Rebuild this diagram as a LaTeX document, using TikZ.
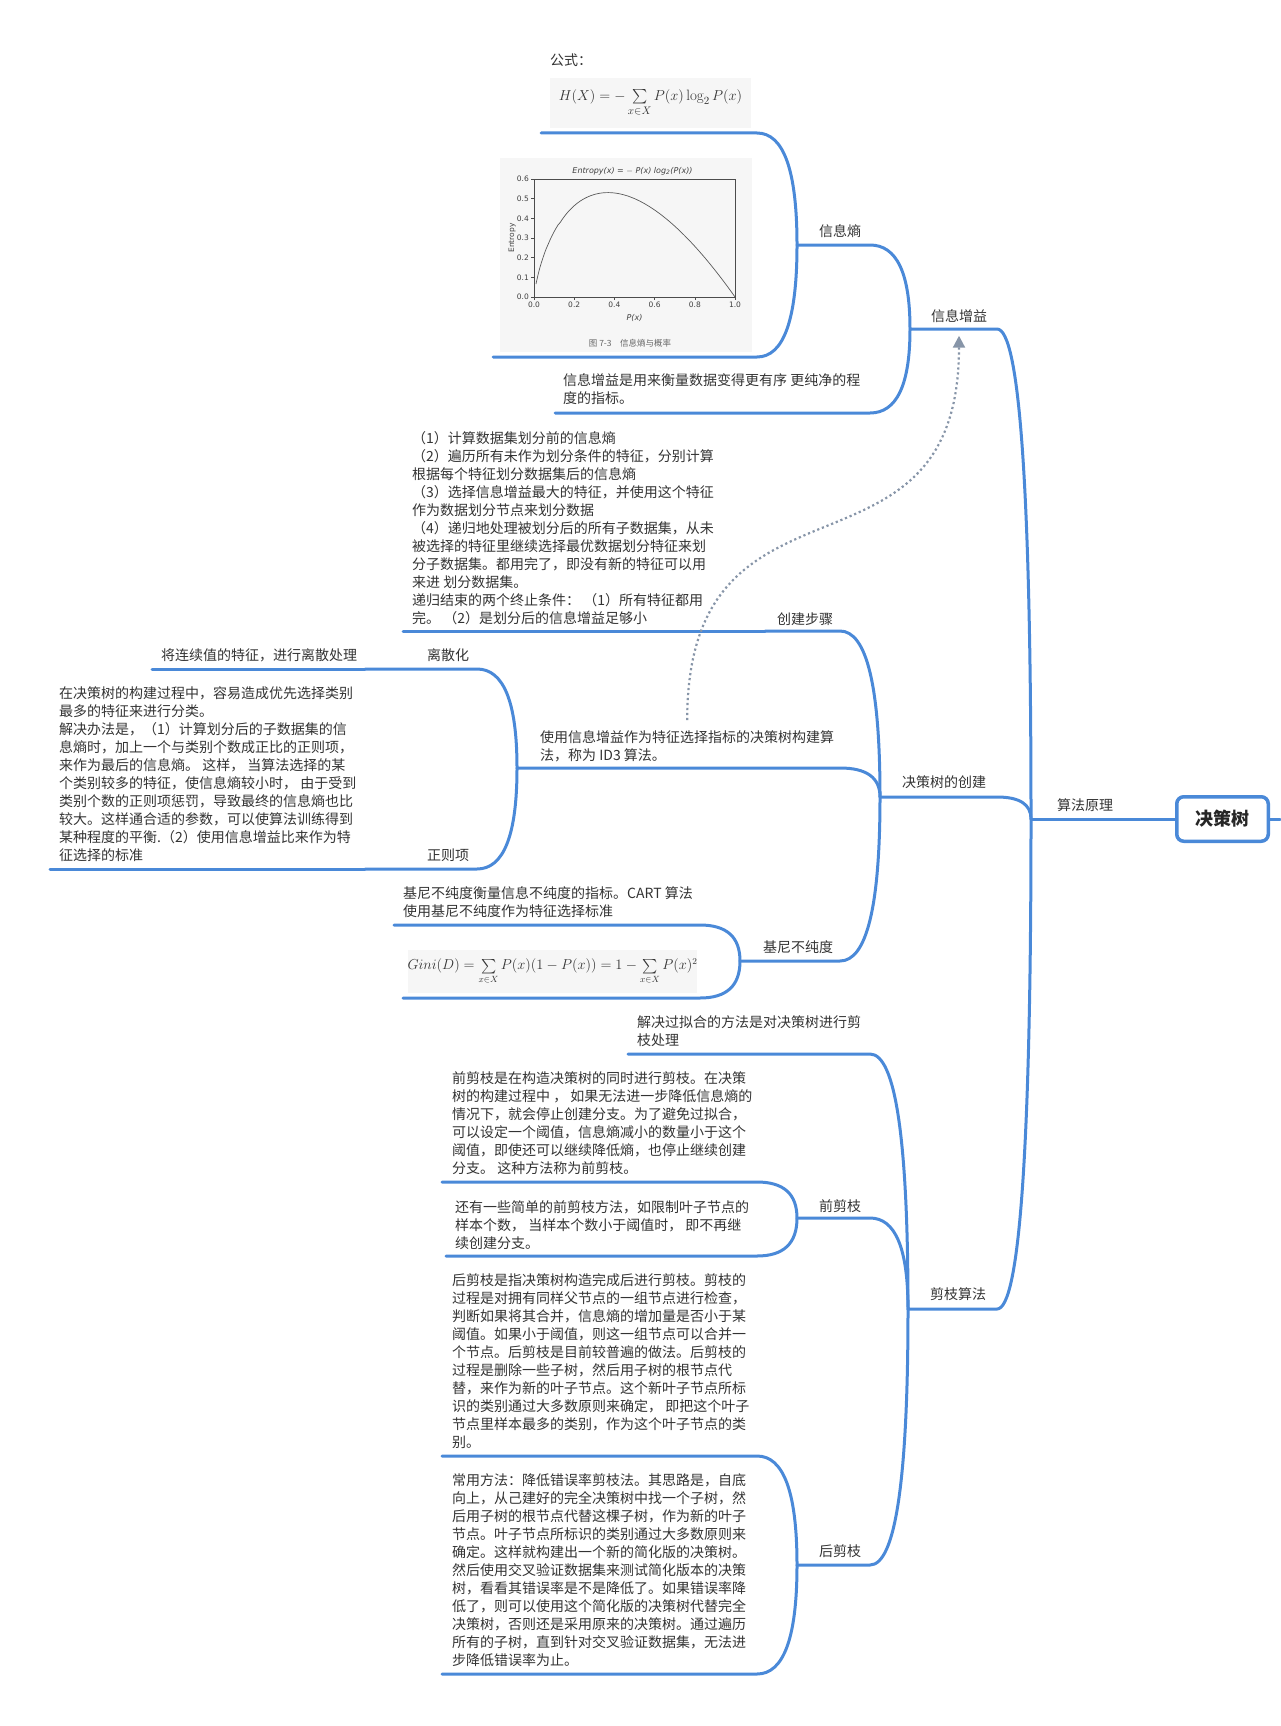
\documentclass[tikz,border=0pt]{standalone}
\usepackage{amsmath}
\usepackage{fontspec}
\newfontfamily\cjk{Noto Sans CJK SC}
\newfontfamily\plotfont{DejaVu Sans}
\usetikzlibrary{calc,arrows.meta}
\definecolor{branchblue}{HTML}{4A89D8}
\definecolor{txtgray}{HTML}{333333}
\definecolor{dotgray}{HTML}{8795A8}
\definecolor{picbg}{HTML}{F6F6F6}
\def\branch(#1)(#2)(#3){\draw[twig] (#1) -- (#2) .. controls ($(#2)!.667!(#3 |- #2)$) and ($(#3)!.667!(#3 |- #2)$) .. (#3);}
\tikzset{
	twig/.style={draw=branchblue, line width=3pt, line cap=round},
	topic/.style={text=txtgray, font=\cjk\fontsize{14}{18}\selectfont, inner sep=0pt},
	note/.style={topic, align=left, anchor=west},
	formula/.style={fill=picbg, inner sep=0pt, text=txtgray, font=\fontsize{15}{18}\selectfont},
	rootbox/.style={draw=branchblue, line width=3.5pt, rounded corners=7pt, fill=white, minimum width=91.5pt, minimum height=44.5pt, text=black!85, font=\cjk\bfseries\fontsize{18}{22}\selectfont},
	relate/.style={draw=dotgray, line width=2.2pt, dash pattern=on 2.2pt off 2.8pt, -{Triangle[width=12pt,length=12pt]}},
	ticklbl/.style={font=\plotfont\fontsize{7.5}{9}\selectfont, text=black!75, inner sep=1pt},
}

\begin{document}
\begin{tikzpicture}[x=1pt,y=-1pt]
			%%%%% START %%%%%
			\useasboundingbox (0,0) rectangle (1280,1726);
			
			\node[rootbox] (root) at (1222.5,819) {决策树};
			\node[topic] (principle) at (1085,805) {算法原理};
			
			% 信息增益
			\node[topic] (gain) at (959,316) {信息增益};
			\node[topic] (entropy) at (840,231) {信息熵};
			\node[note] (fhead) at (550,60) {公式：};
			\node[formula, minimum width=201pt, minimum height=50pt] (hform) at (650.5,103) {$H(X)=-\sum\limits_{x\in X}P(x)\log_2 P(x)$};
			\node[note] (gaindef) at (563,389.5) {信息增益是用来衡量数据变得更有序 更纯净的程\\度的指标。};
			
			\fill[picbg] (500,158) rectangle (752,352);
			\begin{scope}[xshift=534pt, yshift=-297pt, x=201pt, y=196.7pt]
				\draw[black!70, line width=0.6pt] (0,0) rectangle (1,0.6);
				\foreach \t [count=\k] in {0.0,0.2,0.4,0.6,0.8,1.0} {
					\draw[black!70, line width=0.5pt] (\t,0) -- ++(0,-3pt);
					\node[ticklbl, anchor=north] (xt\k) at (\t,-0.02) {\t};
				}
				\foreach \v [count=\k] in {0.0,0.1,0.2,0.3,0.4,0.5,0.6} {
					\draw[black!70, line width=0.5pt] (0,\v) -- ++(-3pt,0);
					\node[ticklbl, anchor=east] (yt\k) at (-0.02,\v) {\v};
				}
				\draw[black!65, line width=0.7pt] plot[domain=0.01:1, samples=100, smooth] (\x, {-\x*ln(\x)/ln(2)});
				\node[ticklbl, font=\plotfont\itshape\fontsize{8}{9}\selectfont] (ptitle) at (0.49,0.64) {Entropy(x) = $-$ P(x) log\textsubscript{2}(P(x))};
				\node[ticklbl, font=\plotfont\itshape\fontsize{8}{9}\selectfont] (pxlabel) at (0.5,-0.107) {P(x)};
				\node[ticklbl, rotate=90] (pylabel) at (-0.109,0.3) {Entropy};
			\end{scope}
			\node[font=\cjk\fontsize{8.5}{10}\selectfont, text=black!60, inner sep=0pt] (pcap) at (630,343) {图 7-3\quad 信息熵与概率};
			
			% 决策树的创建
			\node[topic] (build) at (944,782) {决策树的创建};
			\node[topic] (steps) at (805,619) {创建步骤};
			\node[note] (stepstxt) at (412,528.5) {（1）计算数据集划分前的信息熵\\（2）遍历所有未作为划分条件的特征，分别计算\\根据每个特征划分数据集后的信息熵\\（3）选择信息增益最大的特征，并使用这个特征\\作为数据划分节点来划分数据\\（4）递归地处理被划分后的所有子数据集，从未\\被选择的特征里继续选择最优数据划分特征来划\\分子数据集。都用完了，即没有新的特征可以用\\来进 划分数据集。\\递归结束的两个终止条件：  （1）所有特征都用\\完。 （2）是划分后的信息增益足够小};
			\node[note] (idthree) at (540,746) {使用信息增益作为特征选择指标的决策树构建算\\法，称为 ID3 算法。};
			\node[topic] (discrete) at (448,655) {离散化};
			\node[note] (distxt) at (161,655) {将连续值的特征，进行离散处理};
			\node[topic] (regular) at (448,855) {正则项};
			\node[note] (regtxt) at (59,774) {在决策树的构建过程中，容易造成优先选择类别\\最多的特征来进行分类。\\解决办法是，（1）计算划分后的子数据集的信\\息熵时，加上一个与类别个数成正比的正则项，\\来作为最后的信息熵。 这样， 当算法选择的某\\个类别较多的特征，使信息熵较小时， 由于受到\\类别个数的正则项惩罚，导致最终的信息熵也比\\较大。这样通合适的参数，可以使算法训练得到\\某种程度的平衡.（2）使用信息增益比来作为特\\征选择的标准};
			\node[topic] (gini) at (798,947) {基尼不纯度};
			\node[note] (ginitxt) at (403,902) {基尼不纯度衡量信息不纯度的指标。CART 算法\\使用基尼不纯度作为特征选择标准};
			\node[formula, font=\fontsize{13.5}{16}\selectfont, minimum width=281pt, minimum height=43pt] (giniform) at (552.5,971.5) {$Gini(D)=\sum\limits_{x\in X}P(x)(1-P(x))=1-\sum\limits_{x\in X}P(x)^2$};
			
			% 剪枝算法
			\node[topic] (prune) at (958,1294) {剪枝算法};
			\node[note] (prunedef) at (637,1031.5) {解决过拟合的方法是对决策树进行剪\\枝处理};
			\node[topic] (prepr) at (840,1206) {前剪枝};
			\node[note] (pretxta) at (452,1123) {前剪枝是在构造决策树的同时进行剪枝。在决策\\树的构建过程中 ， 如果无法进一步降低信息熵的\\情况下，就会停止创建分支。为了避免过拟合，\\可以设定一个阈值，信息熵减小的数量小于这个\\阈值，即使还可以继续降低熵，也停止继续创建\\分支。 这种方法称为前剪枝。};
			\node[note] (pretxtb) at (455,1225) {还有一些简单的前剪枝方法，如限制叶子节点的\\样本个数， 当样本个数小于阈值时， 即不再继\\续创建分支。};
			\node[topic] (postpr) at (840,1551) {后剪枝};
			\node[note] (posttxta) at (452,1361.5) {后剪枝是指决策树构造完成后进行剪枝。剪枝的\\过程是对拥有同样父节点的一组节点进行检查，\\判断如果将其合并，信息熵的增加量是否小于某\\阈值。如果小于阈值，则这一组节点可以合并一\\个节点。后剪枝是目前较普遍的做法。后剪枝的\\过程是删除一些子树，然后用子树的根节点代\\替，来作为新的叶子节点。这个新叶子节点所标\\识的类别通过大多数原则来确定， 即把这个叶子\\节点里样本最多的类别，作为这个叶子节点的类\\别。};
			\node[note] (posttxtb) at (452,1570) {常用方法：降低错误率剪枝法。其思路是，自底\\向上，从己建好的完全决策树中找一个子树，然\\后用子树的根节点代替这棵子树，作为新的叶子\\节点。叶子节点所标识的类别通过大多数原则来\\确定。这样就构建出一个新的简化版的决策树。\\然后使用交叉验证数据集来测试简化版本的决策\\树，看看其错误率是不是降低了。如果错误率降\\低了，则可以使用这个简化版的决策树代替完全\\决策树，否则还是采用原来的决策树。通过遍历\\所有的子树，直到针对交叉验证数据集，无法进\\步降低错误率为止。};
			
			% junctions and line ends
			\coordinate (jprin) at (1031,819);
			\coordinate (jgain) at (910,329);
			\coordinate (jbuild) at (880,797);
			\coordinate (jprune) at (908,1309);
			\coordinate (jent) at (797,245);
			\coordinate (jsteps) at (765,631);
			\coordinate (jid) at (517,768);
			\coordinate (jgini) at (740,961);
			\coordinate (jdis) at (365,669);
			\coordinate (jreg) at (365,869);
			\coordinate (jpre) at (797,1218);
			\coordinate (jpost) at (797,1565);
			\coordinate (gain-r) at (997,329);
			\coordinate (build-r) at (997,797);
			\coordinate (prune-r) at (997,1309);
			\coordinate (ent-r) at (870,245);
			\coordinate (gaindef-l) at (555,413);
			\coordinate (gaindef-r) at (870,413);
			\coordinate (hform-l) at (541,133);
			\coordinate (hform-r) at (757,133);
			\coordinate (plot-l) at (493,357);
			\coordinate (plot-r) at (757,357);
			\coordinate (stepstxt-l) at (403,631);
			\coordinate (steps-r) at (840,631);
			\coordinate (id-r) at (840,768);
			\coordinate (gini-r) at (840,961);
			\coordinate (distxt-l) at (152,669);
			\coordinate (dis-r) at (477,669);
			\coordinate (regtxt-l) at (50,869);
			\coordinate (reg-r) at (477,869);
			\coordinate (ginitxt-l) at (394,925);
			\coordinate (ginitxt-r) at (700,925);
			\coordinate (giniform-l) at (403,998);
			\coordinate (giniform-r) at (700,998);
			\coordinate (prunedef-l) at (628,1054);
			\coordinate (prunedef-r) at (870,1054);
			\coordinate (pre-r) at (870,1218);
			\coordinate (post-r) at (870,1565);
			\coordinate (pretxta-l) at (442,1182);
			\coordinate (pretxta-r) at (757,1182);
			\coordinate (pretxtb-l) at (446,1256);
			\coordinate (pretxtb-r) at (757,1256);
			\coordinate (posttxta-l) at (442,1456);
			\coordinate (posttxta-r) at (757,1456);
			\coordinate (posttxtb-l) at (442,1674);
			\coordinate (posttxtb-r) at (757,1674);
			\coordinate (offright) at (1280,819);
			
			\draw[twig] (jprin) -- (root.west);
			\draw[twig] (root.east) -- (offright);
			\branch(jgain)(gain-r)(jprin)
			\branch(jbuild)(build-r)(jprin)
			\branch(jprune)(prune-r)(jprin)
			
			\branch(jent)(ent-r)(jgain)
			\branch(gaindef-l)(gaindef-r)(jgain)
			\branch(hform-l)(hform-r)(jent)
			\branch(plot-l)(plot-r)(jent)
			
			\branch(jsteps)(steps-r)(jbuild)
			\draw[twig] (stepstxt-l) -- (jsteps);
			\branch(jid)(id-r)(jbuild)
			\branch(jgini)(gini-r)(jbuild)
			\branch(jdis)(dis-r)(jid)
			\draw[twig] (distxt-l) -- (jdis);
			\branch(jreg)(reg-r)(jid)
			\draw[twig] (regtxt-l) -- (jreg);
			\branch(ginitxt-l)(ginitxt-r)(jgini)
			\branch(giniform-l)(giniform-r)(jgini)
			
			\branch(prunedef-l)(prunedef-r)(jprune)
			\branch(jpre)(pre-r)(jprune)
			\branch(jpost)(post-r)(jprune)
			\branch(pretxta-l)(pretxta-r)(jpre)
			\branch(pretxtb-l)(pretxtb-r)(jpre)
			\branch(posttxta-l)(posttxta-r)(jpost)
			\branch(posttxtb-l)(posttxtb-r)(jpost)
			
			\draw[relate] ([yshift=10pt]idthree.north) .. controls +(0,-270) and +(0,265) .. ([yshift=-13pt]gain.south);
			
			%%%%% END %%%%%
\end{tikzpicture}
\end{document}
